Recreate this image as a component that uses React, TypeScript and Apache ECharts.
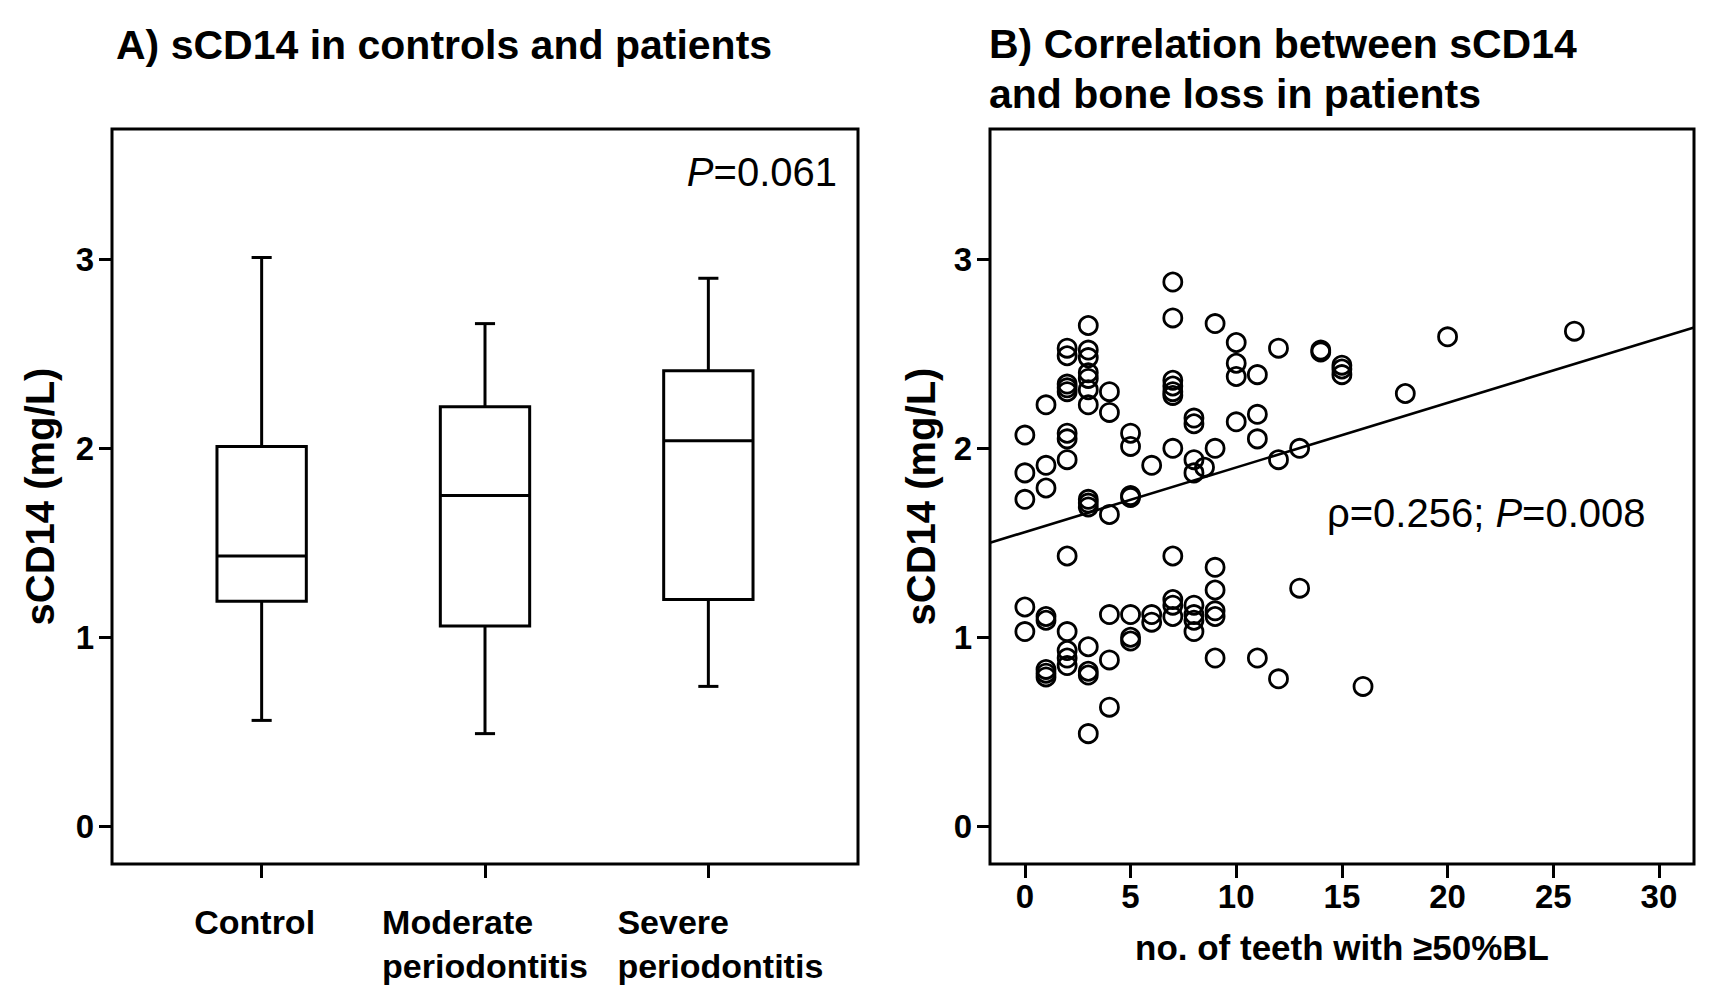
import React, { useEffect, useRef } from "react";
import * as echarts from "echarts";

// ---------- Panel A: box plot data ----------
const boxCategories = ["Control", "Moderate\nperiodontitis", "Severe\nperiodontitis"];
const boxPositions = [1, 2, 3];
const boxMin = [0.56, 0.49, 0.74];
const boxQ1 = [1.19, 1.06, 1.2];
const boxMedian = [1.43, 1.75, 2.04];
const boxQ3 = [2.01, 2.22, 2.41];
const boxMax = [3.01, 2.66, 2.9];

// ---------- Panel B: scatter data ----------
const teethBL = [
  0, 0, 0, 0, 0,
  1, 1, 1, 1, 1, 1, 1, 1,
  2, 2, 2, 2, 2, 2, 2, 2, 2, 2, 2, 2, 2,
  3, 3, 3, 3, 3, 3, 3, 3, 3, 3, 3, 3, 3, 3,
  4, 4, 4, 4, 4, 4,
  5, 5, 5, 5, 5, 5, 5,
  6, 6, 6,
  7, 7, 7, 7, 7, 7, 7, 7, 7, 7, 7,
  8, 8, 8, 8, 8, 8, 8, 8,
  8.5,
  9, 9, 9, 9, 9, 9, 9,
  10, 10, 10, 10,
  11, 11, 11, 11,
  12, 12, 12,
  13, 13,
  14, 14,
  15, 15, 15,
  16,
  18,
  20,
  26,
];
const sCD14 = [
  2.07, 1.87, 1.73, 1.16, 1.03,
  2.23, 1.91, 1.79, 1.11, 1.09, 0.83, 0.81, 0.79,
  2.53, 2.49, 2.34, 2.32, 2.3, 2.08, 2.05, 1.94, 1.43, 1.03, 0.93, 0.89, 0.85,
  2.65, 2.52, 2.48, 2.4, 2.37, 2.31, 2.23, 1.73, 1.71, 1.69, 0.95, 0.82, 0.8, 0.49,
  2.3, 2.19, 1.65, 1.12, 0.88, 0.63,
  2.08, 2.01, 1.75, 1.74, 1.12, 1.0, 0.98,
  1.91, 1.12, 1.08,
  2.88, 2.69, 2.36, 2.33, 2.3, 2.28, 2.0, 1.43, 1.2, 1.17, 1.11,
  2.16, 2.13, 1.94, 1.87, 1.17, 1.12, 1.09, 1.03,
  1.9,
  2.66, 2.0, 1.37, 1.25, 1.14, 1.11, 0.89,
  2.56, 2.45, 2.38, 2.14,
  2.39, 2.18, 2.05, 0.89,
  2.53, 1.94, 0.78,
  2.0, 1.26,
  2.52, 2.51,
  2.44, 2.42, 2.39,
  0.74,
  2.29,
  2.59,
  2.62,
];
const regressionX = [-1.65, 31.66];
const regressionY = [1.5, 2.64];

// ---------- Tick values and texts ----------
const yTicks = [0, 1, 2, 3];
const xTicksB = [0, 5, 10, 15, 20, 25, 30];
const titleA = "A) sCD14 in controls and patients";
const titleB = "B) Correlation between sCD14\nand bone loss in patients";
const yName = "sCD14 (mg/L)";
const xNameB = "no. of teeth with \u226550%BL";
const pTextA = "0.061";
const rhoText = "\u03c1=0.256; ";
const pTextB = "0.008";

const FONT = "'Liberation Sans', Arial, Helvetica, sans-serif";
const BOX_WIDTH = 0.4;
const CAP_WIDTH = 0.09;

export default function App() {
  const ref = useRef<HTMLDivElement>(null);

  useEffect(() => {
    if (!ref.current) return;
    const chart = echarts.init(ref.current, undefined, { renderer: "svg" });

    const boxData = boxPositions.map((p, i) => [p, boxMin[i], boxQ1[i], boxMedian[i], boxQ3[i], boxMax[i]]);
    const scatterData = teethBL.map((x, i) => [x, sCD14[i]]);
    const regData = regressionX.map((x, i) => [x, regressionY[i]]);

    const tickStyle = { color: "#000", width: 3 };
    const boldLabel = { color: "#000", fontFamily: FONT, fontWeight: "bold" as const, fontSize: 33 };
    const catPads = [
      [0, 14, 0, 0],
      [0, 0, 0, 0],
      [0, 0, 0, 24],
    ];

    const yAxisCommon = (gridIndex: number, nameGap: number) => ({
      type: "value" as const,
      gridIndex,
      min: -0.2,
      max: 3.69,
      axisLine: { show: false, onZero: false },
      splitLine: { show: false },
      axisTick: { show: true, customValues: yTicks, length: 13, lineStyle: tickStyle },
      axisLabel: { customValues: yTicks, margin: 18, hideOverlap: false, ...boldLabel },
      name: yName,
      nameLocation: "middle" as const,
      nameGap,
      nameTextStyle: { color: "#000", fontFamily: FONT, fontWeight: "bold" as const, fontSize: 40 },
    });

    const richText = {
      i: { fontStyle: "italic", fontWeight: "normal", fontSize: 40, fontFamily: FONT, color: "#000" },
      n: { fontStyle: "normal", fontWeight: "normal", fontSize: 40, fontFamily: FONT, color: "#000" },
    };

    chart.setOption({
      animation: false,
      backgroundColor: "#fff",
      title: [
        {
          text: titleA,
          left: 116,
          top: 21,
          padding: 0,
          textStyle: { color: "#000", fontFamily: FONT, fontWeight: "bold", fontSize: 41, lineHeight: 48 },
        },
        {
          text: titleB,
          left: 989,
          top: 19,
          padding: 0,
          textStyle: { color: "#000", fontFamily: FONT, fontWeight: "bold", fontSize: 41, lineHeight: 50 },
        },
        {
          text: "{i|P}{n|=" + pTextA + "}",
          right: 890,
          top: 152,
          padding: 0,
          textStyle: { fontWeight: "normal", rich: richText },
        },
        {
          text: "{n|" + rhoText + "}{i|P}{n|=" + pTextB + "}",
          left: 1327,
          top: 493,
          padding: 0,
          textStyle: { fontWeight: "normal", rich: richText },
        },
      ],
      grid: [
        {
          left: 112,
          top: 129,
          width: 746,
          height: 735,
          show: true,
          borderColor: "#000",
          borderWidth: 3,
          backgroundColor: "transparent",
          containLabel: false,
          outerBoundsMode: "none",
        },
        {
          left: 990,
          top: 129,
          width: 704,
          height: 735,
          show: true,
          borderColor: "#000",
          borderWidth: 3,
          backgroundColor: "transparent",
          containLabel: false,
          outerBoundsMode: "none",
        },
      ],
      xAxis: [
        {
          type: "value",
          gridIndex: 0,
          min: 0.33,
          max: 3.67,
          axisLine: { show: false, onZero: false },
          splitLine: { show: false },
          axisTick: { show: true, customValues: boxPositions, length: 14, lineStyle: tickStyle },
          axisLabel: {
            customValues: boxPositions,
            margin: 36,
            hideOverlap: false,
            showMinLabel: true,
            showMaxLabel: true,
            ...boldLabel,
            fontSize: 34,
            lineHeight: 44,
            formatter: (v: number) => {
              const i = boxPositions.indexOf(Math.round(v));
              if (i < 0) return "";
              return boxCategories[i]
                .split("\n")
                .map((s) => "{c" + i + "|" + s + "}")
                .join("\n");
            },
            rich: Object.fromEntries(
              catPads.map((pad, i) => [
                "c" + i,
                {
                  align: "left",
                  padding: pad,
                  color: "#000",
                  fontFamily: FONT,
                  fontWeight: "bold",
                  fontSize: 34,
                  lineHeight: 44,
                },
              ])
            ),
          },
        },
        {
          type: "value",
          gridIndex: 1,
          min: -1.65,
          max: 31.66,
          axisLine: { show: false, onZero: false },
          splitLine: { show: false },
          axisTick: { show: true, customValues: xTicksB, length: 14, lineStyle: tickStyle },
          axisLabel: { customValues: xTicksB, margin: 16, hideOverlap: false, ...boldLabel },
          name: xNameB,
          nameLocation: "middle",
          nameGap: 66,
          nameTextStyle: { color: "#000", fontFamily: FONT, fontWeight: "bold", fontSize: 35 },
        },
      ],
      yAxis: [yAxisCommon(0, 52), yAxisCommon(1, 49)],
      series: [
        {
          type: "custom",
          xAxisIndex: 0,
          yAxisIndex: 0,
          data: boxData,
          encode: { x: 0, y: [1, 2, 3, 4, 5] },
          renderItem: (_params: any, api: any) => {
            const x = api.value(0);
            const pMin = api.coord([x, api.value(1)]);
            const pQ1 = api.coord([x, api.value(2)]);
            const pMed = api.coord([x, api.value(3)]);
            const pQ3 = api.coord([x, api.value(4)]);
            const pMax = api.coord([x, api.value(5)]);
            const hb = api.size([BOX_WIDTH, 0])[0] / 2;
            const hc = api.size([CAP_WIDTH, 0])[0] / 2;
            const st = { stroke: "#000", lineWidth: 3, fill: "none" };
            const cx = pMed[0];
            return {
              type: "group",
              children: [
                { type: "line", shape: { x1: cx, y1: pMax[1], x2: cx, y2: pQ3[1] }, style: st },
                { type: "line", shape: { x1: cx, y1: pQ1[1], x2: cx, y2: pMin[1] }, style: st },
                { type: "line", shape: { x1: cx - hc, y1: pMax[1], x2: cx + hc, y2: pMax[1] }, style: st },
                { type: "line", shape: { x1: cx - hc, y1: pMin[1], x2: cx + hc, y2: pMin[1] }, style: st },
                {
                  type: "rect",
                  shape: { x: cx - hb, y: pQ3[1], width: hb * 2, height: pQ1[1] - pQ3[1] },
                  style: { stroke: "#000", lineWidth: 3, fill: "#fff" },
                },
                { type: "line", shape: { x1: cx - hb, y1: pMed[1], x2: cx + hb, y2: pMed[1] }, style: st },
              ],
            };
          },
        },
        {
          type: "scatter",
          xAxisIndex: 1,
          yAxisIndex: 1,
          data: scatterData,
          symbol: "circle",
          symbolSize: 18,
          itemStyle: { color: "rgba(255,255,255,0)", borderColor: "#000", borderWidth: 2.8, opacity: 1 },
          emphasis: { disabled: true },
          z: 3,
        },
        {
          type: "line",
          xAxisIndex: 1,
          yAxisIndex: 1,
          data: regData,
          symbol: "none",
          lineStyle: { color: "#000", width: 2.6 },
          clip: true,
          z: 2,
        },
      ],
    });

    return () => chart.dispose();
  }, []);

  return (
    <div
      ref={ref}
      style={{ position: "fixed", left: 0, top: 0, width: 1727, height: 1003, background: "#fff" }}
    />
  );
}
